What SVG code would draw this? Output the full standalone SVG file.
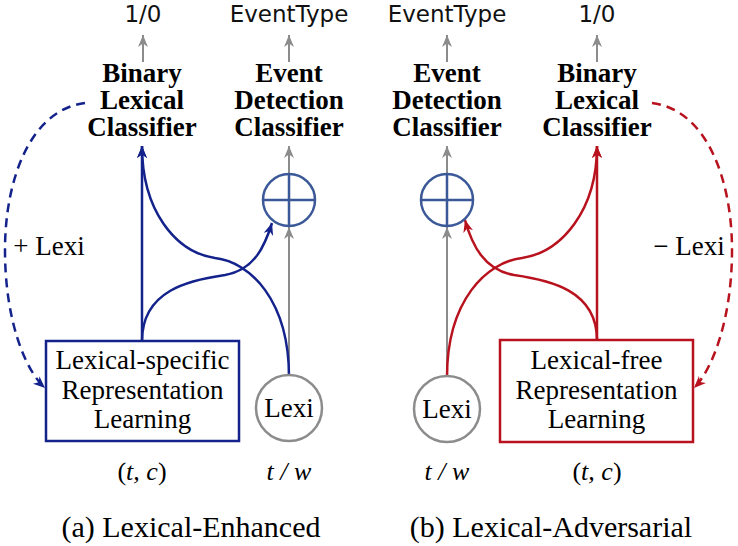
<svg xmlns="http://www.w3.org/2000/svg" width="738" height="546" viewBox="0 0 738 546">
<style>
.out{font-family:"DejaVu Sans",sans-serif;font-size:23px;fill:#111;text-anchor:middle}
.cls{font-family:"Liberation Serif",serif;font-size:27px;font-weight:bold;fill:#000;text-anchor:middle}
.rm{font-family:"Liberation Serif",serif;font-size:27px;fill:#000;text-anchor:middle}
.it{font-family:"Liberation Serif",serif;font-size:26px;font-style:italic;fill:#000;text-anchor:middle}
.cap{font-family:"Liberation Serif",serif;font-size:30px;fill:#000;text-anchor:middle}
.grey{fill:none;stroke:#8c8c8c;stroke-width:2;marker-end:url(#ag)}
.blue{fill:none;stroke:#14238c;stroke-width:2.5;marker-end:url(#ab)}
.red{fill:none;stroke:#b8121e;stroke-width:2.5;marker-end:url(#ar)}
.dash{stroke-dasharray:9 6}
.plus{fill:#fff;stroke:#3b5998;stroke-width:2.5}
.lexi{fill:#fff;stroke:#8c8c8c;stroke-width:2.5}
</style>
<defs>
<marker id="ag" viewBox="0 0 12 10" refX="12" refY="5" markerWidth="12" markerHeight="10" orient="auto" markerUnits="userSpaceOnUse"><path d="M0,0 L12,5 L0,10 L3.5,5 z" fill="#8c8c8c"/></marker>
<marker id="ab" viewBox="0 0 12 10" refX="12" refY="5" markerWidth="12" markerHeight="10" orient="auto" markerUnits="userSpaceOnUse"><path d="M0,0 L12,5 L0,10 L3.5,5 z" fill="#14238c"/></marker>
<marker id="ar" viewBox="0 0 12 10" refX="12" refY="5" markerWidth="12" markerHeight="10" orient="auto" markerUnits="userSpaceOnUse"><path d="M0,0 L12,5 L0,10 L3.5,5 z" fill="#b8121e"/></marker>
</defs>
<rect width="738" height="546" fill="#fff"/>

<g id="connectors">
<path class="grey" d="M143,62 L143,35"/>
<path class="grey" d="M289,62 L289,35"/>
<path class="grey" d="M289,174 L289,146"/>
<path class="grey" d="M289,375 L289,227"/>
<path class="grey" d="M447,62 L447,35"/>
<path class="grey" d="M597,62 L597,35"/>
<path class="grey" d="M447,174 L447,146"/>
<path class="grey" d="M447,376 L447,227"/>
<path class="blue" d="M142,341 L142,146"/>
<path class="blue" d="M289,377 C289,300 250,262 215,258 C175,252 142,210 142,146"/>
<path class="blue" d="M142,341 C142,290 190,280 225,275 C255,270 265,245 272,223"/>
<path class="blue dash" d="M85,103 C30,110 5,180 5,250 C5,320 25,370 45,388"/>
<path class="red" d="M597,340 L597,146"/>
<path class="red" d="M447,377 C447,300 487,262 522,258 C562,252 597,210 597,146"/>
<path class="red" d="M597,340 C597,290 549,280 514,275 C484,270 472,245 465,220"/>
<path class="red dash" d="M652,103 C707,110 732,180 732,250 C732,320 712,370 694,388"/>
</g>

<g id="out-left-bin"><text class="out" x="143" y="22">1/0</text></g>
<g id="out-left-evt"><text class="out" x="289" y="22">EventType</text></g>
<g id="out-right-evt"><text class="out" x="447" y="22">EventType</text></g>
<g id="out-right-bin"><text class="out" x="597" y="22">1/0</text></g>

<g id="bin-left"><text class="cls" x="142" y="82">Binary</text><text class="cls" x="142" y="109">Lexical</text><text class="cls" x="142" y="136">Classifier</text></g>
<g id="evt-left"><text class="cls" x="289" y="82">Event</text><text class="cls" x="289" y="109">Detection</text><text class="cls" x="289" y="136">Classifier</text></g>
<g id="evt-right"><text class="cls" x="447" y="82">Event</text><text class="cls" x="447" y="109">Detection</text><text class="cls" x="447" y="136">Classifier</text></g>
<g id="bin-right"><text class="cls" x="597" y="82">Binary</text><text class="cls" x="597" y="109">Lexical</text><text class="cls" x="597" y="136">Classifier</text></g>

<g id="plus-left"><circle class="plus" cx="289" cy="200" r="26"/><path d="M263,200 H315 M289,174 V226" stroke="#3b5998" stroke-width="2.5"/></g>
<g id="plus-right"><circle class="plus" cx="447" cy="200" r="26"/><path d="M421,200 H473 M447,174 V226" stroke="#3b5998" stroke-width="2.5"/></g>

<g id="box-left"><rect x="46" y="341" width="193" height="100" fill="#fff" stroke="#14238c" stroke-width="2.5"/>
<text class="rm" x="142.5" y="369">Lexical-specific</text><text class="rm" x="142.5" y="398.5">Representation</text><text class="rm" x="142.5" y="428">Learning</text></g>
<g id="box-right"><rect x="500" y="340" width="193" height="102" fill="#fff" stroke="#b8121e" stroke-width="2.5"/>
<text class="rm" x="596.5" y="369">Lexical-free</text><text class="rm" x="596.5" y="398.5">Representation</text><text class="rm" x="596.5" y="428">Learning</text></g>

<g id="lexi-left"><circle class="lexi" cx="289" cy="408" r="33"/><text class="rm" x="289" y="417">Lexi</text></g>
<g id="lexi-right"><circle class="lexi" cx="447" cy="409" r="33"/><text class="rm" x="447" y="418">Lexi</text></g>

<g id="labels">
<text class="rm" x="49" y="255">+ Lexi</text>
<text class="rm" x="689" y="255">− Lexi</text>
<text class="it" x="142" y="480"><tspan font-style="normal">(</tspan>t, c<tspan font-style="normal">)</tspan></text>
<text class="it" x="289" y="480">t / w</text>
<text class="it" x="447" y="480">t / w</text>
<text class="it" x="597" y="480"><tspan font-style="normal">(</tspan>t, c<tspan font-style="normal">)</tspan></text>
<text class="cap" x="191" y="537">(a) Lexical-Enhanced</text>
<text class="cap" x="551" y="537">(b) Lexical-Adversarial</text>
</g>
</svg>
